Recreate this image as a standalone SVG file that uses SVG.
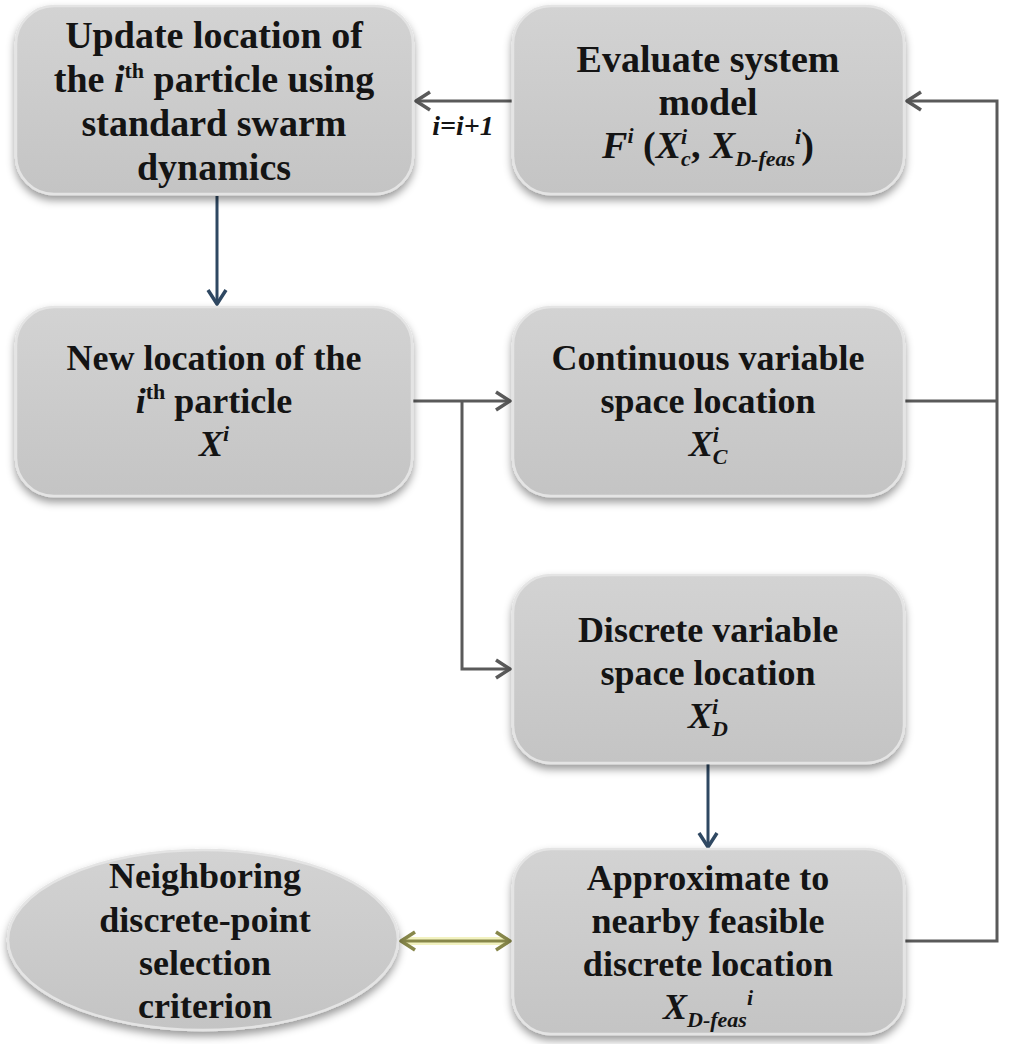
<svg xmlns="http://www.w3.org/2000/svg" width="1009" height="1044" viewBox="0 0 1009 1044">
<defs>
<linearGradient id="g" x1="0" y1="0" x2="0" y2="1">
<stop offset="0" stop-color="#d3d3d3"/>
<stop offset="1" stop-color="#c4c4c4"/>
</linearGradient>
<filter id="sh" x="-10%" y="-10%" width="120%" height="125%">
<feDropShadow dx="0" dy="5" stdDeviation="4" flood-color="#000" flood-opacity="0.4"/>
</filter>
<marker id="ag" markerUnits="userSpaceOnUse" markerWidth="22" markerHeight="24" refX="17" refY="11" orient="auto-start-reverse">
<path d="M3,2 L17,11 L3,20" fill="none" stroke="#5a5a5a" stroke-width="3.5"/>
</marker>
<marker id="ab" markerUnits="userSpaceOnUse" markerWidth="22" markerHeight="24" refX="17" refY="11" orient="auto-start-reverse">
<path d="M3,2 L17,11 L3,20" fill="none" stroke="#2f4862" stroke-width="3.5"/>
</marker>
<marker id="ao" markerUnits="userSpaceOnUse" markerWidth="22" markerHeight="24" refX="17" refY="11" orient="auto-start-reverse">
<path d="M3,2 L17,11 L3,20" fill="none" stroke="#87874a" stroke-width="3.5"/>
</marker>
</defs>
<rect width="1009" height="1044" fill="#fff"/>

<g id="connectors" fill="none" stroke-width="3">
<path stroke="#5a5a5a" d="M513,101 H416" marker-end="url(#ag)"/>
<path stroke="#2f4862" d="M217,196 V304" marker-end="url(#ab)"/>
<path stroke="#5a5a5a" d="M413,401 H510" marker-end="url(#ag)"/>
<path stroke="#5a5a5a" d="M462,401 V669 H510" marker-end="url(#ag)"/>
<path stroke="#2f4862" d="M708,764 V847" marker-end="url(#ab)"/>
<path stroke="#5a5a5a" d="M904,401 H997"/>
<path stroke="#5a5a5a" d="M904,941 H997 V101 H907" marker-end="url(#ag)"/>
<path stroke="#f2f2c0" stroke-width="8" d="M404,941 H508"/>
<path stroke="#87874a" d="M401,941 H510" marker-start="url(#ao)" marker-end="url(#ao)"/>
<text x="463" y="135" style="font-family:'Liberation Serif' !important" font-weight="bold" font-style="italic" font-size="28" fill="#141414" stroke="none" text-anchor="middle">i=i+1</text>
</g>

<g id="update" font-family="Liberation Serif" font-weight="bold" font-size="38" fill="#141414" text-anchor="middle">
<rect fill="url(#g)" stroke="#e4e4e4" stroke-width="2.5" filter="url(#sh)" x="16" y="6" width="397" height="188" rx="38"/>
<text style="font-family:'Liberation Serif' !important" x="214" y="48">Update location of</text>
<text style="font-family:'Liberation Serif' !important" x="214" y="92">the <tspan font-style="italic">i</tspan><tspan font-size="22" dy="-14">th</tspan><tspan dy="14"> particle using</tspan></text>
<text style="font-family:'Liberation Serif' !important" x="214" y="136">standard swarm</text>
<text style="font-family:'Liberation Serif' !important" x="214" y="180">dynamics</text>
</g>

<g id="evaluate" font-family="Liberation Serif" font-weight="bold" font-size="38" fill="#141414" text-anchor="middle">
<rect fill="url(#g)" stroke="#e4e4e4" stroke-width="2.5" filter="url(#sh)" x="513" y="6" width="391" height="188" rx="38"/>
<text style="font-family:'Liberation Serif' !important" x="708" y="72">Evaluate system</text>
<text style="font-family:'Liberation Serif' !important" x="708" y="115">model</text>
<text style="font-family:'Liberation Serif' !important" x="708" y="158"><tspan font-style="italic">F</tspan><tspan font-size="22" font-style="italic" dy="-15">i</tspan><tspan dy="15"> (</tspan><tspan font-style="italic">X</tspan><tspan font-size="22" font-style="italic" dy="8">c</tspan><tspan font-size="22" font-style="italic" dx="-9.8" dy="-22">i</tspan><tspan dx="3.7" dy="14">, </tspan><tspan font-style="italic">X</tspan><tspan font-size="22" font-style="italic" dy="8">D-feas</tspan><tspan font-size="22" font-style="italic" dy="-22">i</tspan><tspan dy="14">)</tspan></text>
</g>

<g id="newloc" font-family="Liberation Serif" font-weight="bold" font-size="36" fill="#141414" text-anchor="middle">
<rect fill="url(#g)" stroke="#e4e4e4" stroke-width="2.5" filter="url(#sh)" x="16" y="307" width="396" height="189" rx="38"/>
<text style="font-family:'Liberation Serif' !important" x="214" y="370">New location of the</text>
<text style="font-family:'Liberation Serif' !important" x="214" y="413"><tspan font-style="italic">i</tspan><tspan font-size="22" dy="-14">th</tspan><tspan dy="14"> particle</tspan></text>
<text style="font-family:'Liberation Serif' !important" x="214" y="456"><tspan font-style="italic">X</tspan><tspan font-size="22" font-style="italic" dy="-15">i</tspan></text>
</g>

<g id="continuous" font-family="Liberation Serif" font-weight="bold" font-size="36" fill="#141414" text-anchor="middle">
<rect fill="url(#g)" stroke="#e4e4e4" stroke-width="2.5" filter="url(#sh)" x="513" y="307" width="391" height="189" rx="38"/>
<text style="font-family:'Liberation Serif' !important" x="708" y="370">Continuous variable</text>
<text style="font-family:'Liberation Serif' !important" x="708" y="413">space location</text>
<text style="font-family:'Liberation Serif' !important" x="708" y="456"><tspan font-style="italic">X</tspan><tspan font-size="22" font-style="italic" dy="8">C</tspan><tspan font-size="22" font-style="italic" dx="-14.7" dy="-22">i</tspan></text>
</g>

<g id="discrete" font-family="Liberation Serif" font-weight="bold" font-size="36" fill="#141414" text-anchor="middle">
<rect fill="url(#g)" stroke="#e4e4e4" stroke-width="2.5" filter="url(#sh)" x="513" y="575" width="391" height="188" rx="38"/>
<text style="font-family:'Liberation Serif' !important" x="708" y="642">Discrete variable</text>
<text style="font-family:'Liberation Serif' !important" x="708" y="685">space location</text>
<text style="font-family:'Liberation Serif' !important" x="708" y="728"><tspan font-style="italic">X</tspan><tspan font-size="22" font-style="italic" dy="8">D</tspan><tspan font-size="22" font-style="italic" dx="-15.9" dy="-22">i</tspan></text>
</g>

<g id="approximate" font-family="Liberation Serif" font-weight="bold" font-size="36" fill="#141414" text-anchor="middle">
<rect fill="url(#g)" stroke="#e4e4e4" stroke-width="2.5" filter="url(#sh)" x="513" y="849" width="391" height="185" rx="38"/>
<text style="font-family:'Liberation Serif' !important" x="708" y="890">Approximate to</text>
<text style="font-family:'Liberation Serif' !important" x="708" y="933">nearby feasible</text>
<text style="font-family:'Liberation Serif' !important" x="708" y="976">discrete location</text>
<text style="font-family:'Liberation Serif' !important" x="708" y="1019"><tspan font-style="italic">X</tspan><tspan font-size="22" font-style="italic" dy="8">D-feas</tspan><tspan font-size="22" font-style="italic" dy="-22">i</tspan></text>
</g>

<g id="neighboring" font-family="Liberation Serif" font-weight="bold" font-size="36" fill="#141414" text-anchor="middle">
<ellipse fill="url(#g)" stroke="#e4e4e4" stroke-width="2.5" filter="url(#sh)" cx="203" cy="940" rx="195" ry="90"/>
<text style="font-family:'Liberation Serif' !important" x="205" y="888">Neighboring</text>
<text style="font-family:'Liberation Serif' !important" x="205" y="932">discrete-point</text>
<text style="font-family:'Liberation Serif' !important" x="205" y="975">selection</text>
<text style="font-family:'Liberation Serif' !important" x="205" y="1018">criterion</text>
</g>
</svg>
